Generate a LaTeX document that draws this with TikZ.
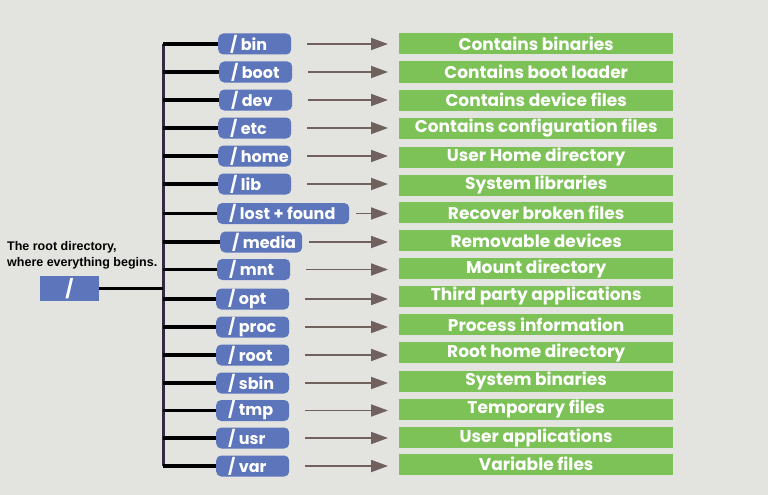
\documentclass[tikz,border=0pt]{standalone}
\usepackage{fontspec}
\setmainfont{Poppins}
\newfontfamily\labelfont{Liberation Sans}
\usetikzlibrary{arrows.meta}
\definecolor{bg}{RGB}{227,227,223}
\definecolor{dirblue}{RGB}{92,117,187}
\definecolor{descgreen}{RGB}{124,194,86}
\definecolor{arrgray}{RGB}{112,96,94}
\definecolor{bardark}{RGB}{52,42,66}
\tikzset{
  dirbox/.style={fill=dirblue, rounded corners=5pt, minimum height=21pt, inner xsep=0pt, inner ysep=0pt,
     anchor=west, text=white, font=\bfseries\fontsize{16}{16}\selectfont},
  descbox/.style={fill=descgreen, minimum height=21pt, minimum width=274pt, inner sep=0pt,
     anchor=west, text=white, font=\bfseries\fontsize{17}{17}\selectfont},
  arr/.style={draw=arrgray, line width=1.8pt, -{Triangle[length=17pt,width=12pt]}, shorten >=11pt},
  branch/.style={draw=black, line width=3.2pt},
  bar/.style={draw=bardark, line width=3pt}
}
\begin{document}
\begin{tikzpicture}[x=1pt,y=-1pt]
\fill[bg] (0,0) rectangle (768,495);
\useasboundingbox (0,0) rectangle (768,495);

% root
\node[fill=dirblue, minimum width=59pt, minimum height=25pt, inner sep=0pt, text=white,
      font=\bfseries\fontsize{18}{18}\selectfont] (root) at (69.5,288.5) {/};
\node[anchor=south west, align=left, inner sep=0pt, font=\labelfont\bfseries\fontsize{12.5}{16}\selectfont] (rootlabel)
   at (7,269) {The root directory,\\where everything begins.};

\coordinate (bartop) at (163,44);
\coordinate (barbot) at (163,466);
\draw[bar] (bartop) -- (barbot);
\draw[branch] (root.east) -- (root.east -| bartop);

% directories: id, name, y, width, x, shift, description, green y
\foreach \id/\name/\y/\w/\x/\sh/\desc/\gy in {
  bin/{/ bin}/44/73/218/16/{Contains binaries}/44,
  boot/{/ boot}/72/73/219/16/{Contains boot loader}/72,
  dev/{/ dev}/100/73/219/16/{Contains device files}/100,
  etc/{/ etc}/128/73/218/16/{Contains configuration files}/128,
  home/{/ home}/156/73/218/16/{User Home directory}/157,
  lib/{/ lib}/184/73/218/16/{System libraries}/185,
  lost/{/ lost + found}/213.5/132/217/7/{Recover broken files}/212.5,
  media/{/ media}/242/82/220/7/{Removable devices}/240.5,
  mnt/{/ mnt}/269.5/73/217/16/{Mount directory}/268.5,
  opt/{/ opt}/299/73/216/16/{Third party applications}/296,
  proc/{/ proc}/327/73/216/16/{Process information}/324.5,
  rootd/{/ root}/355/73/216/16/{Root home directory}/352.5,
  sbin/{/ sbin}/383/73/216/16/{System binaries}/381,
  tmp/{/ tmp}/410.5/73/216/16/{Temporary files}/409,
  usr/{/ usr}/438/73/216/16/{User applications}/437.5,
  var/{/ var}/466/73/216/16/{Variable files}/464}
{
  \node[dirbox, minimum width=\w pt] (d\id) at (\x,\y) {\makebox[\w pt][l]{\hspace*{12pt}\name}};
  \node[descbox] (g\id) at (399,\gy) {\desc};
  \draw[branch] (d\id.west -| bartop) -- (d\id.west);
  \draw[arr, shorten <=\sh pt] (d\id.east) -- (d\id.east -| g\id.west);
}
\end{tikzpicture}
\end{document}
